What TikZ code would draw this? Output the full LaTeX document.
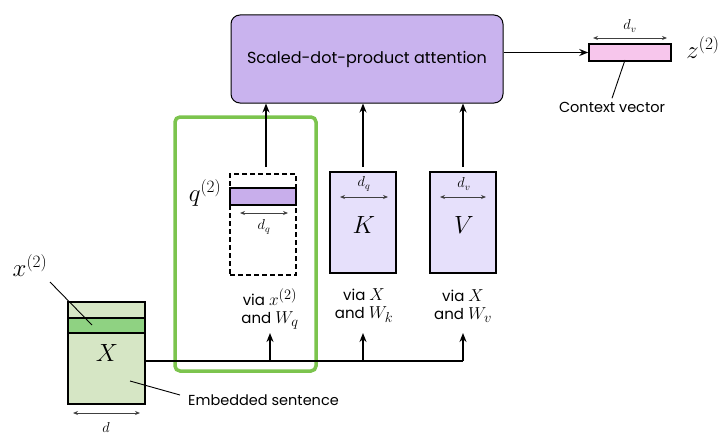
\documentclass[tikz,border=0pt]{standalone}
\usepackage{fontspec}
\setmainfont{Poppins}
\usetikzlibrary{arrows.meta}
\definecolor{attn}{HTML}{C9B3EE}
\definecolor{kv}{HTML}{E6E0FB}
\definecolor{qbar}{HTML}{C8AEEB}
\definecolor{ctx}{HTML}{F7C6EC}
\definecolor{xfill}{HTML}{D6E6C5}
\definecolor{xrow}{HTML}{8FD282}
\definecolor{gbox}{HTML}{7CC44E}
\newcommand{\fs}[1]{\fontsize{#1}{#1}\selectfont}
\newcommand{\bm}[1]{{\fs{19}$#1$}}
\begin{document}
\begin{tikzpicture}[x=1pt,y=-1pt,
  arr/.style={-{Stealth[length=9pt,width=7pt]},line width=1.6pt},
  dim/.style={{Stealth[length=5pt,width=4pt]}-{Stealth[length=5pt,width=4pt]},line width=0.9pt,black!75},
  mat/.style={draw,line width=1.5pt},
  lbl/.style={font=\fs{14.5},align=center},
  via/.style={align=center,font=\fs{15}},
  lead/.style={line width=0.9pt}]
\useasboundingbox (0,0) rectangle (720,436);
% attention
\node[draw,fill=attn,rounded corners=9pt,line width=1pt,minimum width=272,minimum height=88,font=\fs{16}] (att) at (367,59) {Scaled-dot-product attention};
% context vector
\node[mat,fill=ctx,minimum width=82,minimum height=17,inner sep=0pt] (ctxv) at (630,52.5) {};
\draw[arr] (att.east |- ctxv) -- (ctxv.west);
\coordinate (cvl) at (593,38); \coordinate (cvr) at (667,38);
\draw[dim] (cvl) -- (cvr);
\node[font=\fs{14}] (dv0) at (630,26) {$d_v$};
\node[font=\fs{24}] (z2) at (703,48) {$z^{(2)}$};
\node[lbl] (ctxt) at (612,107) {Context vector};
\coordinate (cva) at (625,60);
\draw[lead] (cva) -- (ctxt.north);
% green box
\node[draw=gbox,line width=3.5pt,rounded corners=5pt,minimum width=141,minimum height=254] (green) at (245.5,244) {};
% query
\node[draw,dash pattern=on 5pt off 3pt,line width=2.6pt,minimum width=66,minimum height=101,inner sep=0pt] (qbox) at (263,224.5) {};
\node[mat,fill=qbar,minimum width=66,minimum height=17,inner sep=0pt] (qb) at (263,196.5) {};
\coordinate (ql) at (240,213); \coordinate (qr) at (288,213);
\draw[dim] (ql) -- (qr);
\node[font=\fs{14}] (dq1) at (264,227) {$d_q$};
\node[font=\fs{26}] (q2) at (205,193) {$q^{(2)}$};
\coordinate (qtop) at (266,167);
\draw[arr] (qtop) -- (qtop |- att.south);
% K
\node[mat,fill=kv,minimum width=66,minimum height=101,inner sep=0pt] (K) at (363,222.5) {};
\node[font=\fs{26}] (Kt) at (364,225) {$K$};
\node[font=\fs{14}] (dq2) at (364,184) {$d_q$};
\coordinate (kl) at (340,197); \coordinate (kr) at (388,197);
\draw[dim] (kl) -- (kr);
\coordinate (ktop) at (363,167);
\draw[arr] (ktop) -- (ktop |- att.south);
% V
\node[mat,fill=kv,minimum width=66,minimum height=101,inner sep=0pt] (V) at (463,222.5) {};
\node[font=\fs{26}] (Vt) at (464,225) {$V$};
\node[font=\fs{14}] (dv1) at (464,184) {$d_v$};
\coordinate (vl) at (440,197); \coordinate (vr) at (486,197);
\draw[dim] (vl) -- (vr);
\coordinate (vtop) at (463,167);
\draw[arr] (vtop) -- (vtop |- att.south);
% via labels
\node[via] (vq) at (270,309) {via \bm{x^{(2)}}\\[3pt]and \bm{W_q}};
\node[via] (vk) at (364,306) {via \bm{X}\\[3pt]and \bm{W_k}};
\node[via] (vv) at (463,306) {via \bm{X}\\[3pt]and \bm{W_v}};
% X matrix
\node[mat,fill=xfill,minimum width=77,minimum height=102,inner sep=0pt] (X) at (106.5,353) {};
\node[mat,fill=xrow,minimum width=77,minimum height=15,inner sep=0pt] (xr) at (106.5,325.5) {};
\node[font=\fs{26}] (Xt) at (107,353) {$X$};
\node[font=\fs{24}] (x2) at (30,266) {$x^{(2)}$};
\coordinate (xra) at (92,325);
\coordinate (xl0) at (50,282);
\draw[lead] (xl0) -- (xra);
\coordinate (dl) at (73,413); \coordinate (dr) at (140,413);
\draw[dim] (dl) -- (dr);
\node[font=\fs{14}] (dd) at (106,427) {$d$};
\node[lbl,anchor=west,inner sep=0pt] (emb) at (188,400) {Embedded sentence};
\coordinate (xa) at (130,381);
\coordinate (ea) at (180,395);
\draw[lead] (xa) -- (ea);
% bus
\coordinate (b0) at (145,361);
\coordinate (bq) at (270,361); \coordinate (bk) at (363,361); \coordinate (bv) at (463,361);
\draw[line width=1.5pt] (b0) -- (bv);
\draw[arr] (bq) -- (270,333);
\draw[arr] (bk) -- (363,333);
\draw[arr] (bv) -- (463,333);
\end{tikzpicture}
\end{document}
